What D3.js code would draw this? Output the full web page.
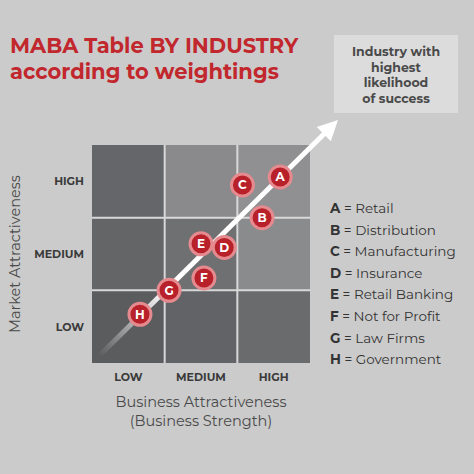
<!DOCTYPE html>
<html><head><meta charset="utf-8">
<script src="https://cdn.jsdelivr.net/npm/d3@7"></script>
<style>body{margin:0;background:#cbcbcb}</style>
</head><body><div id="chart"></div>
<script>
var levels = ["LOW", "MEDIUM", "HIGH"];
var codes = ["A", "B", "C", "D", "E", "F", "G", "H"];
var names = ["Retail", "Distribution", "Manufacturing", "Insurance", "Retail Banking", "Not for Profit", "Law Firms", "Government"];
var business = [2.59, 2.34, 2.07, 1.82, 1.50, 1.54, 1.06, 0.66];
var market = [2.56, 2.00, 2.45, 1.59, 1.64, 1.17, 1.00, 0.67];
var cellShades = [["#5b5c5e","#626366","#6a6b6d"],["#646567","#6f7072","#8a8b8d"],["#65666a","#8a8a8c","#909092"]]; // [row from bottom][col]

var W = 474, H = 474;
var svg = d3.select("#chart").append("svg").attr("width", W).attr("height", H)
  .style("font-family", "Montserrat, 'Open Sans', sans-serif");
svg.append("rect").attr("width", W).attr("height", H).attr("fill", "#cbcbcb");

var x = d3.scaleLinear().domain([0, 3]).range([92, 310]);
var y = d3.scaleLinear().domain([0, 3]).range([363, 145]);

// title
svg.append("text").attr("x", 10).attr("y", 53).attr("fill", "#c1272d").attr("font-size", 21).attr("font-weight", 700).text("MABA Table BY INDUSTRY");
svg.append("text").attr("x", 10).attr("y", 79).attr("fill", "#c1272d").attr("font-size", 21).attr("font-weight", 700).text("according to weightings");

// box
svg.append("rect").attr("x", 334).attr("y", 35).attr("width", 124).attr("height", 78).attr("fill", "#dcdcdc");
["Industry with", "highest", "likelihood", "of success"].forEach(function(t, i) {
  svg.append("text").attr("x", 396).attr("y", 56 + i * 15.5).attr("text-anchor", "middle")
    .attr("fill", "#4a4a4a").attr("font-size", 12.5).attr("font-weight", 700).text(t);
});

// grid cells
for (var r = 0; r < 3; r++) for (var c = 0; c < 3; c++) {
  svg.append("rect").attr("x", x(c)).attr("y", y(r + 1)).attr("width", x(1) - x(0)).attr("height", y(0) - y(1))
    .attr("fill", cellShades[r][c]);
}
var g = svg.append("g").attr("stroke", "#d8d8d8").attr("stroke-width", 2);
[1, 2].forEach(function(v) {
  g.append("line").attr("x1", x(v)).attr("x2", x(v)).attr("y1", y(0)).attr("y2", y(3));
  g.append("line").attr("x1", x(0)).attr("x2", x(3)).attr("y1", y(v)).attr("y2", y(v));
});

// tick labels
levels.forEach(function(l, i) {
  svg.append("text").attr("x", x(i + 0.5)).attr("y", 381).attr("text-anchor", "middle")
    .attr("fill", "#3a3a3a").attr("font-size", 11).attr("font-weight", 700).text(l);
  svg.append("text").attr("x", 84).attr("y", y(i + 0.5) + 4).attr("text-anchor", "end")
    .attr("fill", "#3a3a3a").attr("font-size", 11).attr("font-weight", 700).text(l);
});
svg.append("text").attr("x", x(1.5)).attr("y", 407).attr("text-anchor", "middle").attr("fill", "#4a4a4a").attr("font-size", 14.5).text("Business Attractiveness");
svg.append("text").attr("x", x(1.5)).attr("y", 426).attr("text-anchor", "middle").attr("fill", "#4a4a4a").attr("font-size", 14.5).text("(Business Strength)");
svg.append("text").attr("transform", "translate(20," + y(1.5) + ") rotate(-90)").attr("text-anchor", "middle").attr("fill", "#4a4a4a").attr("font-size", 14.5).text("Market Attractiveness");

// arrow
var defs = svg.append("defs");
var grad = defs.append("linearGradient").attr("id", "ag").attr("gradientUnits", "userSpaceOnUse")
  .attr("x1", x(0.1)).attr("y1", y(0.1)).attr("x2", x(1)).attr("y2", y(1));
grad.append("stop").attr("offset", 0).attr("stop-color", "#fff").attr("stop-opacity", 0);
grad.append("stop").attr("offset", 1).attr("stop-color", "#fff").attr("stop-opacity", 1);
var x0 = x(0.1), y0 = y(0.1), x1 = 326, y1 = 132;
svg.append("line").attr("x1", x0).attr("y1", y0).attr("x2", x1).attr("y2", y1).attr("stroke", "url(#ag)").attr("stroke-width", 5);
var ang = Math.atan2(y1 - y0, x1 - x0);
svg.append("path").attr("fill", "#fff").attr("transform", "translate(338,120) rotate(" + (ang * 180 / Math.PI) + ")")
  .attr("d", "M0,0 L-20,-10 L-20,10 Z");

// points
var pts = svg.append("g").selectAll("g").data(codes).enter().append("g")
  .attr("transform", function(d, i) { return "translate(" + x(business[i]) + "," + y(market[i]) + ")"; });
pts.append("circle").attr("r", 11).attr("fill", "#b8202a").attr("stroke", "#e58a8e").attr("stroke-width", 3);
pts.append("text").attr("text-anchor", "middle").attr("dy", 4.5).attr("fill", "#fff").attr("font-size", 12).attr("font-weight", 700).text(function(d) { return d; });

// legend
codes.forEach(function(c, i) {
  var t = svg.append("text").attr("x", 330).attr("y", 213 + i * 21.6).attr("fill", "#333").attr("font-size", 13.5);
  t.append("tspan").attr("font-weight", 700).text(c);
  t.append("tspan").text(" = " + names[i]);
});
</script></body></html>
